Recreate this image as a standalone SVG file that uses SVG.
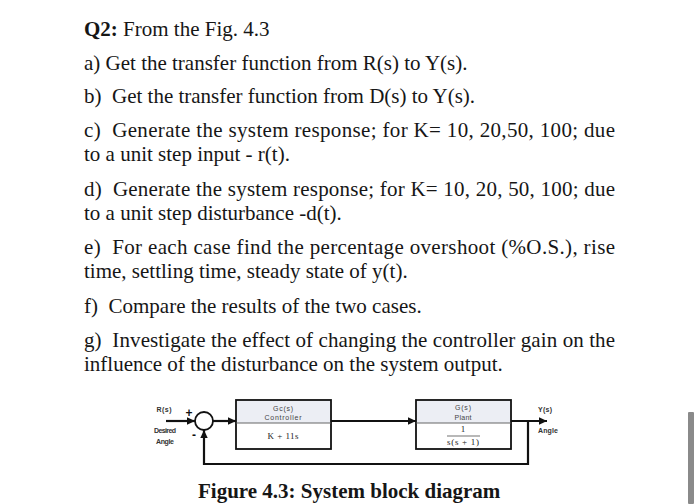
<svg xmlns="http://www.w3.org/2000/svg" width="700" height="504" viewBox="0 0 700 504">
<defs>
<style>
.t{font-family:"Liberation Serif","Times New Roman",serif;font-size:21px;fill:#161616}
.b{font-weight:bold}
.s{font-family:"Liberation Sans",Arial,sans-serif;font-size:7px;fill:#444;text-anchor:middle}
.sb{font-family:"Liberation Sans",Arial,sans-serif;font-size:7px;fill:#333;font-weight:bold;text-anchor:middle}
.m{font-family:"Liberation Serif","Times New Roman",serif;font-size:9px;fill:#222;text-anchor:middle}
.ln{stroke:#111;stroke-width:2.2;fill:none}
.box{fill:#fff;stroke:#111;stroke-width:1.8}
</style>
<marker id="ah" markerWidth="9" markerHeight="9" refX="8" refY="4.5" orient="auto" markerUnits="userSpaceOnUse">
<path d="M0,0.8 L8,4.5 L0,8.2 Z" fill="#111"/>
</marker>
</defs>
<rect width="700" height="504" fill="#fff"/>
<g id="question">
<text class="t" x="84" y="36"><tspan class="b">Q2:</tspan> From the Fig. 4.3</text>
<text class="t" x="84" y="70">a) Get the transfer function from R(s) to Y(s).</text>
<text class="t" x="84" y="103">b)&#160; Get the transfer function from D(s) to Y(s).</text>
<text class="t" x="84" y="137" textLength="531">c)&#160; Generate the system response; for K= 10, 20,50, 100; due</text>
<text class="t" x="84" y="161">to a unit step input - r(t).</text>
<text class="t" x="84" y="196" textLength="531">d)&#160; Generate the system response; for K= 10, 20, 50, 100; due</text>
<text class="t" x="84" y="220">to a unit step disturbance -d(t).</text>
<text class="t" x="84" y="254" textLength="531">e)&#160; For each case find the percentage overshoot (%O.S.), rise</text>
<text class="t" x="84" y="278">time, settling time, steady state of y(t).</text>
<text class="t" x="84" y="313">f)&#160; Compare the results of the two cases.</text>
<text class="t" x="84" y="347" textLength="531">g)&#160; Investigate the effect of changing the controller gain on the</text>
<text class="t" x="84" y="371">influence of the disturbance on the system output.</text>
</g>
<g id="connectors">
<line class="ln" x1="166" y1="421" x2="195" y2="421" marker-end="url(#ah)"/>
<line class="ln" x1="213" y1="421" x2="236" y2="421" marker-end="url(#ah)"/>
<line class="ln" x1="331" y1="421" x2="416" y2="421" marker-end="url(#ah)"/>
<line class="ln" x1="511" y1="421" x2="547" y2="421" marker-end="url(#ah)"/>
<polyline class="ln" points="528,421 528,464 204,464 204,430" marker-end="url(#ah)"/>
</g>
<g id="input-labels">
<text class="sb" x="164" y="412" textLength="15">R(s)</text>
<text class="sb" x="165" y="433" textLength="22">Desired</text>
<text class="sb" x="165" y="444" textLength="18">Angle</text>
</g>
<g id="sum">
<circle cx="204" cy="421" r="9" fill="#fff" stroke="#111" stroke-width="1.8"/>
<text x="189" y="417" style="font-family:'Liberation Sans',Arial,sans-serif;font-size:12px;font-weight:bold;fill:#111;text-anchor:middle">+</text>
<text x="194" y="439" style="font-family:'Liberation Sans',Arial,sans-serif;font-size:12px;font-weight:bold;fill:#111;text-anchor:middle">-</text>
</g>
<g id="controller">
<rect class="box" x="236" y="400" width="95" height="49"/>
<rect x="237" y="401" width="93" height="22" fill="#eceef4"/>
<line x1="236" y1="423" x2="331" y2="423" stroke="#555" stroke-width="0.9"/>
<text class="s" x="283" y="411" textLength="20">Gc(s)</text>
<text class="s" x="283" y="420" textLength="37">Controller</text>
<text class="m" x="283" y="439" textLength="31">K + 11s</text>
</g>
<g id="plant">
<rect class="box" x="416" y="400" width="95" height="49"/>
<rect x="417" y="401" width="93" height="22" fill="#eceef4"/>
<line x1="416" y1="423" x2="511" y2="423" stroke="#555" stroke-width="0.9"/>
<text class="s" x="463" y="410" textLength="16">G(s)</text>
<text class="s" x="463" y="420" textLength="17">Plant</text>
<text class="m" x="463" y="432">1</text>
<line x1="447" y1="436" x2="480" y2="436" stroke="#333" stroke-width="0.7"/>
<text class="m" x="463" y="445" textLength="32">s(s + 1)</text>
</g>
<g id="output-labels">
<text class="sb" x="545" y="412" textLength="14">Y(s)</text>
<text class="sb" x="548" y="433" textLength="20">Angle</text>
</g>
<text class="t b" x="198" y="498">Figure 4.3: System block diagram</text>
<rect x="688" y="412" width="6" height="92" rx="1" fill="#8a8a8a"/>
</svg>
